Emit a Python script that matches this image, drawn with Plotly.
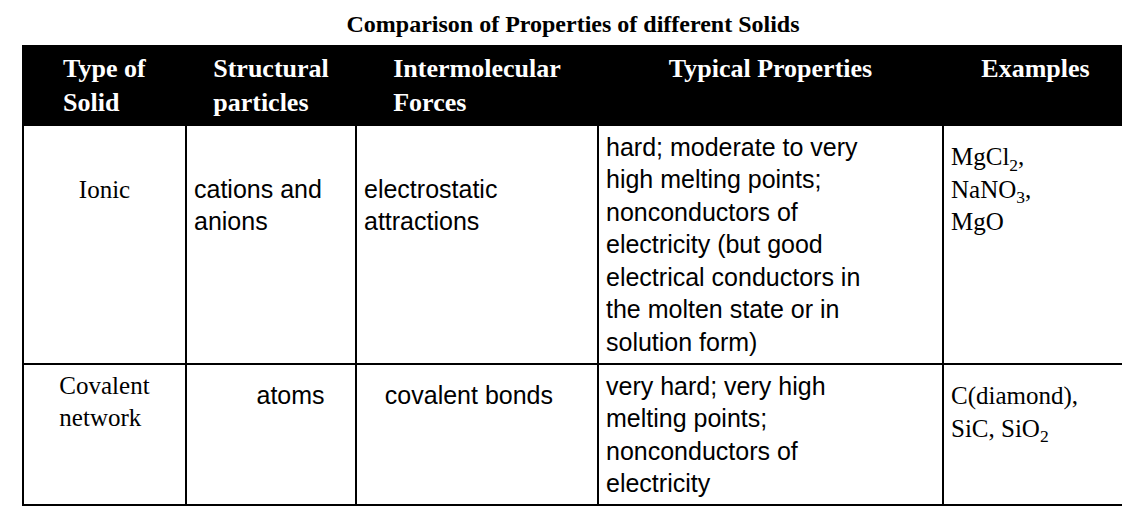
import plotly.graph_objects as go

headers = ["<b>Type of<br>Solid</b>", "<b>Structural<br>particles</b>", "<b>Intermolecular<br>Forces</b>",
           "<b>Typical Properties</b>", "<b>Examples</b>"]

solid_type = ["<br><br>Ionic", "Covalent<br>network"]
particles = ["<br><br>cations and<br>anions", "<br>" + "\u00a0" * 9 + "atoms"]
forces = ["<br><br>electrostatic<br>attractions", "<br>\u00a0\u00a0\u00a0covalent bonds"]
properties = ["hard; moderate to very<br>high melting points;<br>nonconductors of<br>electricity (but good<br>"
              "electrical conductors in<br>the molten state or in<br>solution form)",
              "very hard; very high<br>melting points;<br>nonconductors of<br>electricity"]
examples = ["<br>MgCl<sub>2</sub>,<br>NaNO<sub>3</sub>,<br>MgO", "<br>C(diamond),<br>SiC, SiO<sub>2</sub>"]

serif = "Liberation Serif"
sans = "Liberation Sans"

fig = go.Figure(go.Table(
    columnwidth=[163, 170, 242, 345, 185],
    header=dict(values=headers, fill_color="black", align="center",
                line=dict(color="black", width=2),
                font=dict(family=serif, size=26, color="white"), height=36),
    cells=dict(values=[solid_type, particles, forces, properties, examples],
               fill_color="white",
               align=["center", "left", "left", "left", "left"],
               line=dict(color="black", width=2),
               font=dict(family=[serif, sans, sans, sans, serif], size=25, color="black"),
               height=35),
))

fig.update_layout(
    width=1130, height=508,
    margin=dict(l=15, r=10, t=38, b=0),
    paper_bgcolor="white",
    title=dict(text="<b>Comparison of Properties of different Solids</b>", x=0.5, y=0.985,
               yanchor="top", font=dict(family=serif, size=24, color="black")),
)

fig.write_html("out.html")
